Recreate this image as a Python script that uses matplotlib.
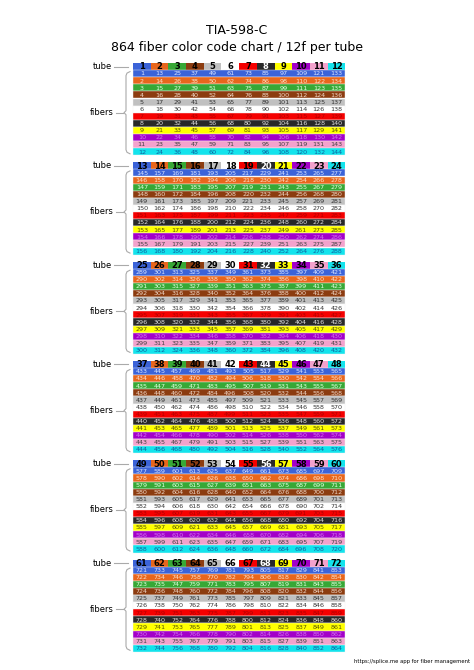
import matplotlib.pyplot as plt
from matplotlib.patches import Rectangle

# standard 12 fiber colors (TIA-598-C)
color_names = ['blue', 'orange', 'green', 'brown', 'slate', 'white',
               'red', 'black', 'yellow', 'violet', 'rose', 'aqua']
fill = ['#3b63d8', '#e8661c', '#37a836', '#8c3c10', '#c0c0c0', '#ffffff',
        '#f50000', '#282828', '#ffff00', '#a300c8', '#f3a2cc', '#13e3ec']
text_col = ['#d8e4ff', '#ffe0c8', '#e0ffe0', '#f0d8c8', '#333333', '#333333',
            '#b00000', '#e0e0e0', '#555500', '#d070f0', '#444444', '#1060a0']
head_text = ['#000000', '#000000', '#000000', '#000000', '#000000', '#000000',
             '#000000', '#ffffff', '#000000', '#000000', '#000000', '#000000']

blocks = 6
tubes_per_block = 12
fibers_per_tube = 12

fig = plt.figure(figsize=(4.74, 6.70), dpi=100)
ax = fig.add_axes([0, 0, 1, 1])
ax.set_xlim(0, 474)
ax.set_ylim(670, 0)
ax.axis('off')

ax.text(237, 31, 'TIA-598-C', ha='center', va='center', fontsize=9)
ax.text(237, 48, '864 fiber color code chart / 12f per tube', ha='center', va='center', fontsize=9)

x0, cw, rh = 133, 17.7, 7.1
for b in range(blocks):
    y0 = 63 + b * 99.3
    # tube header row
    for j in range(tubes_per_block):
        tube = b * tubes_per_block + j + 1
        ax.add_patch(Rectangle((x0 + j * cw, y0), cw, rh, fc=fill[j], ec='none'))
        ax.text(x0 + (j + 0.5) * cw, y0 + rh / 2 + 0.3, str(tube), ha='center', va='center',
                fontsize=6, fontweight='bold', color=head_text[j])
    # fiber rows
    for i in range(fibers_per_tube):
        y = y0 + (i + 1) * rh
        ax.add_patch(Rectangle((x0, y), cw * tubes_per_block, rh, fc=fill[i],
                               ec='#f4f4f4', lw=0.3))
        for j in range(tubes_per_block):
            fiber = (b * tubes_per_block + j) * fibers_per_tube + i + 1
            ax.text(x0 + (j + 0.5) * cw, y + rh / 2 + 0.3, str(fiber), ha='center', va='center',
                    fontsize=4.6, color=text_col[i])
    # labels
    ax.text(112, y0 + rh / 2, 'tube', ha='right', va='center', fontsize=6)
    ax.plot([114, 128], [y0 + rh / 2] * 2, color='#aaaaaa', lw=0.8)
    top, bot = y0 + rh + 1.5, y0 + 13 * rh - 1.5
    mid = (top + bot) / 2
    ax.plot([130, 127, 126, 126, 124, 126, 126, 127, 130],
            [top, top + 1.5, top + 4, mid - 2, mid, mid + 2, bot - 4, bot - 1.5, bot],
            color='#aaaaaa', lw=0.8)
    ax.plot([116, 123], [mid, mid], color='#aaaaaa', lw=0.8)
    ax.text(114, mid, 'fibers', ha='right', va='center', fontsize=6)

ax.text(470, 661, 'https://splice.me app for fiber management', ha='right', va='center', fontsize=3.8)

fig.savefig('out.png', dpi=100)
